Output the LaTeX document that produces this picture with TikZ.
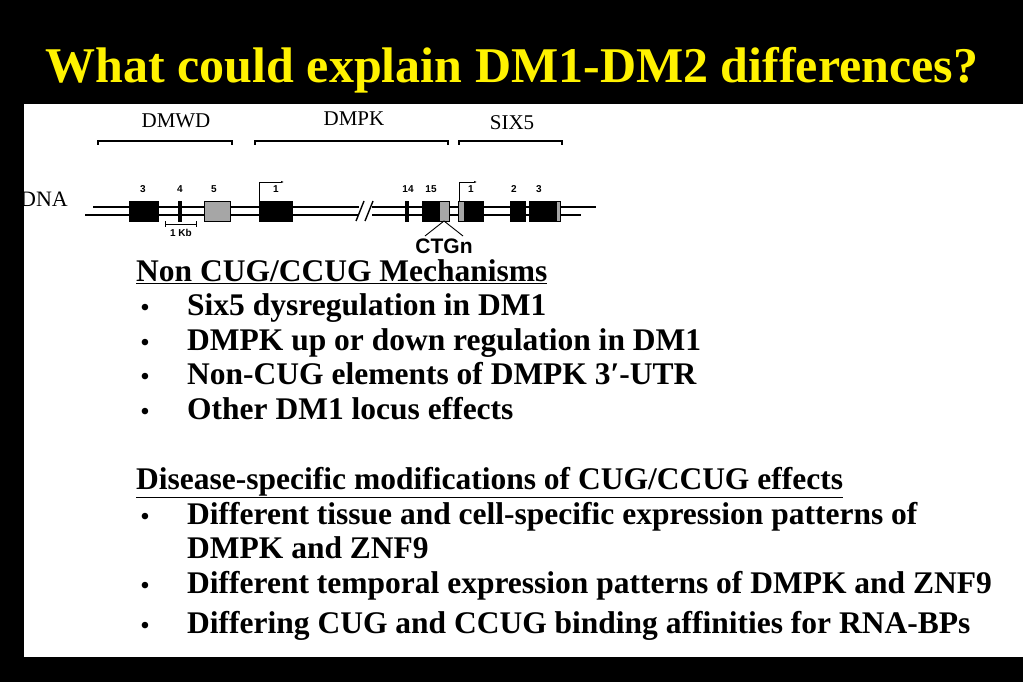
\documentclass[tikz,border=0pt]{standalone}
\usepackage{fontspec}
\setmainfont{Liberation Serif}
\setsansfont{Liberation Sans}
\usetikzlibrary{arrows.meta}
\begin{document}
\begin{tikzpicture}[x=1pt,y=-1pt,
  ex/.style={draw=black,line width=0.6pt},
  blk/.style={ex,fill=black},
  gry/.style={ex,fill=gray!70},
  num/.style={font=\sffamily\fontsize{10}{11}\selectfont\bfseries},
  gene/.style={font=\fontsize{21}{24}\selectfont},
  body/.style={anchor=base west,font=\bfseries\fontsize{31.5}{34}\selectfont,inner sep=0},
  bul/.style={anchor=base,font=\bfseries\fontsize{24}{28}\selectfont,inner sep=0}]
\fill[black] (0,0) rectangle (1023,682);
\useasboundingbox (0,0) rectangle (1023,682);
\fill[white] (24,104) rectangle (1023,657);
\node[font=\bfseries\fontsize{50}{56}\selectfont,text=yellow] (title) at (512,70) {What could explain DM1-DM2 differences?};
% DNA
\node[anchor=west,inner sep=0,font=\fontsize{22}{24}\selectfont] (dna) at (20,199) {DNA};
\draw[line width=1.6pt] (93,207) -- (596,207);
\draw[line width=1.6pt] (85,215) -- (581,215);
\fill[white] (359,203) rectangle (372,219);
\draw[line width=1.4pt] (356,221) -- (364,201) (365,221) -- (373,201);
% exons
\draw[blk] (129,201) rectangle (158,221);
\draw[blk] (178,201) rectangle (181,221);
\draw[gry] (204,201) rectangle (230,221);
\draw[blk] (259,201) rectangle (292,221);
\draw[blk] (405,201) rectangle (408,221);
\draw[blk] (422,201) rectangle (439,221);
\draw[gry] (439,201) rectangle (449,221);
\draw[gry] (458,201) rectangle (464,221);
\draw[blk] (464,201) rectangle (483,221);
\draw[blk] (510,201) rectangle (525,221);
\draw[blk] (529,201) rectangle (556,221);
\draw[gry] (556,201) rectangle (560,221);
% numbers
\node[num] (n3) at (143,189) {3};
\node[num] (n4) at (180,189) {4};
\node[num] (n5) at (214,189) {5};
\node[num] (n1a) at (276,189) {1};
\node[num] (n14) at (408,189) {14};
\node[num] (n15) at (431,189) {15};
\node[num] (n1b) at (471,189) {1};
\node[num] (n2) at (514,189) {2};
\node[num] (n3b) at (539,189) {3};
% promoters
\draw[line width=0.7pt,-{Latex[length=3pt]}] (259,201) -- (259,182) -- (284,182);
\draw[line width=0.7pt,-{Latex[length=3pt]}] (459,201) -- (459,182) -- (477,182);
% brackets
\draw[line width=1.5pt] (98,145) -- (98,141) -- (232,141) -- (232,145);
\draw[line width=1.5pt] (255,145) -- (255,141) -- (448,141) -- (448,145);
\draw[line width=1.5pt] (459,145) -- (459,141) -- (562,141) -- (562,145);
\node[gene] (g1) at (176,121) {DMWD};
\node[gene] (g2) at (354,119) {DMPK};
\node[gene] (g3) at (512,123) {SIX5};
% scale bar
\draw[line width=0.8pt] (165,221) -- (165,227) (165,224) -- (196,224) (196,221) -- (196,227);
\node[num] (kb) at (181,233) {1 Kb};
% CTGn
\coordinate (ct) at (444,221);
\node[font=\sffamily\bfseries\fontsize{21}{24}\selectfont] (ctg) at (444,246) {CTGn};
\draw[line width=0.9pt] (425,236) -- (ct) -- (463,236);
% text
\node[body] (h1) at (136,281) {\underline{Non CUG/CCUG Mechanisms}};
\foreach \yy/\tt [count=\i] in {315/Six5 dysregulation in DM1,350/DMPK up or down regulation in DM1,384/Non-CUG elements of DMPK 3′-UTR,419/Other DM1 locus effects}{
  \node[bul] (b\i) at (145,\yy) {•};
  \node[body] (t\i) at (187,\yy) {\tt};
}
\node[body] (h2) at (136,489) {\underline{Disease-specific modifications of CUG/CCUG effects}};
\node[bul] (c1) at (145,524) {•};
\node[body] (u1) at (187,524) {Different tissue and cell-specific expression patterns of};
\node[body] (u1b) at (187,558) {DMPK and ZNF9};
\node[bul] (c2) at (145,593) {•};
\node[body] (u2) at (187,593) {Different temporal expression patterns of DMPK and ZNF9};
\node[bul] (c3) at (145,633) {•};
\node[body] (u3) at (187,633) {Differing CUG and CCUG binding affinities for RNA-BPs};
\end{tikzpicture}
\end{document}
